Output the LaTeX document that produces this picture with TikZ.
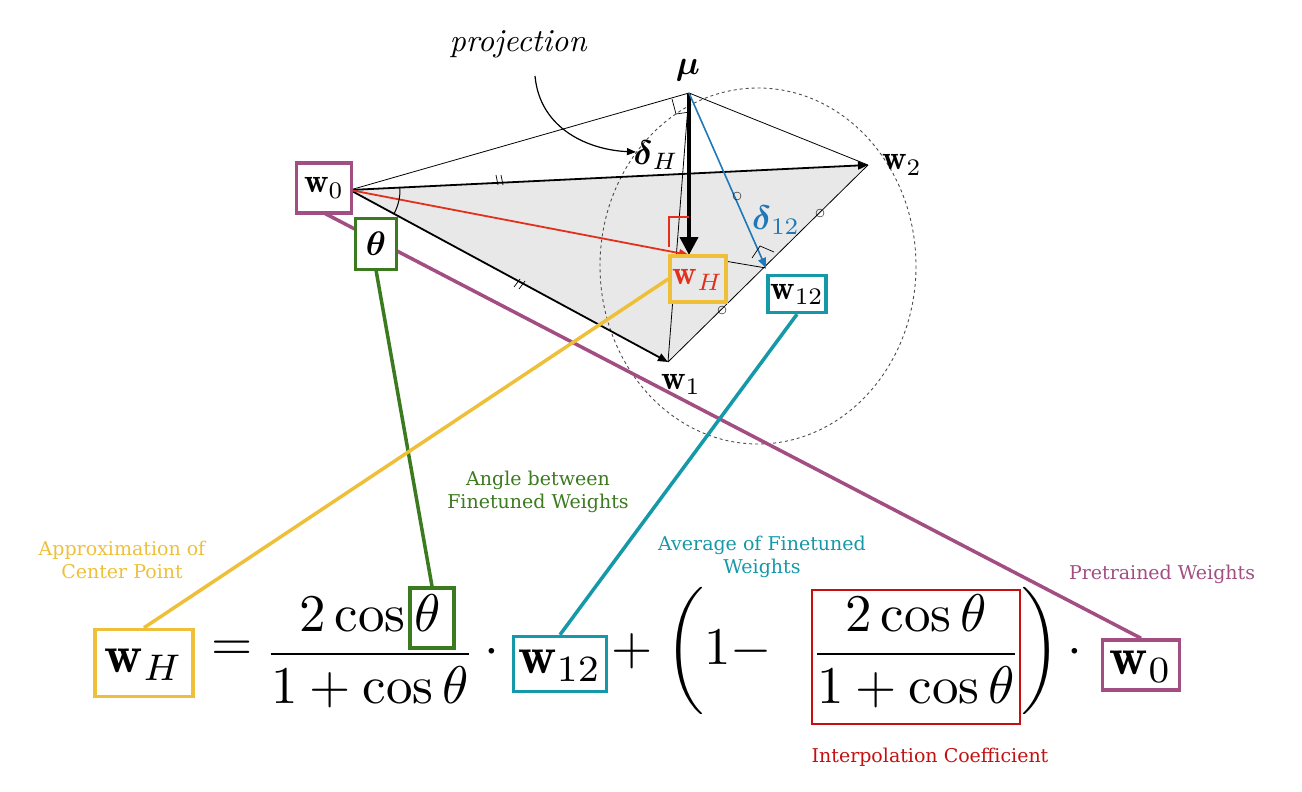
\documentclass[tikz,border=0pt]{standalone}
\usepackage{amsmath}
\usepackage{fontspec}
\newfontfamily\labf{DejaVu Serif}
\usetikzlibrary{calc,arrows.meta}
\definecolor{cY}{HTML}{EEC03A}
\definecolor{cG}{HTML}{3B7A1E}
\definecolor{cT}{HTML}{1598A8}
\definecolor{cP}{HTML}{A24E82}
\definecolor{cR}{HTML}{C41010}
\definecolor{cB}{HTML}{1F78B8}
\definecolor{cRa}{HTML}{E2301C}
\begin{document}
\begin{tikzpicture}[x=1pt,y=-1pt,
  box/.style={draw=#1,line width=3.5pt,inner sep=0pt},
  conn/.style={draw=#1,line width=3.5pt},
  lab/.style={text=#1,font=\labf\fontsize{19}{23}\selectfont,align=center},
  dtext/.style={scale=3.4,inner sep=0pt},
  ftext/.style={scale=5.3,inner sep=0pt},
  circ/.style={draw,thin,fill=none}]
\useasboundingbox (0,0) rectangle (1302,792);
% points
\coordinate (w0) at (350,190);
\coordinate (w1) at (668,362);
\coordinate (w2) at (868,165);
\coordinate (mu) at (689,93);
\coordinate (wh) at (689,255);
\coordinate (w12) at (766,268);
% shaded plane
\fill[gray!18] (w0) -- (w1) -- (w2) -- cycle;
% dashed ellipse
\draw[dashed,gray!60!black,line width=0.9pt] (758,266) ellipse[x radius=158,y radius=178];
% thin lines
\draw[line width=0.8pt] (w0) -- (mu) -- (w2);
\draw[line width=0.8pt] (w1) -- (w2);
\draw[line width=0.8pt] (w1) -- (mu);
\draw[line width=0.8pt] (wh) -- (w12);
% thick arrows
\draw[line width=1.8pt,-{Triangle[length=10pt,width=8pt]}] (w0) -- (w2);
\draw[line width=1.8pt,-{Triangle[length=10pt,width=8pt]}] (w0) -- (w1);
\draw[cRa,line width=1.8pt,-{Triangle[length=10pt,width=8pt]}] (w0) -- (wh);
\draw[line width=4pt,-{Triangle[length=18pt,width=18pt]}] (mu) -- (wh);
\draw[cB,line width=1.6pt,-{Triangle[length=10pt,width=8pt]}] (mu) -- (w12);
% right angle marks
\draw[cRa,line width=1.5pt] (689,217) -- (669,217) -- (669,247);
\draw[line width=0.7pt] (672,99) -- (676,114) -- (690,112);
\draw[line width=0.7pt] (752,258) -- (760,246) -- (774,252);
% theta arc
\draw[line width=1pt] ($(w0)+(-2.8:50)$) arc[start angle=-2.8,end angle=28.4,radius=50];
% ticks
\draw[line width=0.7pt] (496,175) -- (498,185) (501,175) -- (503,185);
\draw[line width=0.7pt] (514,287) -- (520,279) (519,289) -- (525,281);
% circles
\draw[circ] (722,310) circle[radius=4];
\draw[circ] (820,213) circle[radius=4];
\draw[circ] (737,196) circle[radius=4];
% labels in diagram
\node[scale=3.2,font=\itshape] (proj) at (518,44) {projection};
\coordinate (pa) at (535,76);
\coordinate (pb) at (636,152);
\draw[line width=1.2pt,-{Triangle[length=9pt,width=7pt]}] (pa) .. controls (540,130) and (590,150) .. (pb);
\node[dtext] (lmu) at (688,70) {$\boldsymbol{\mu}$};
\node[dtext] (ldh) at (656,155) {$\boldsymbol{\delta}_H$};
\node[dtext,text=cB] (ld12) at (776,220) {$\boldsymbol{\delta}_{12}$};
\node[dtext] (lw2) at (902,165) {$\mathbf{w}_2$};
\node[dtext] (lw1) at (681,384) {$\mathbf{w}_1$};
% boxes in diagram
\node[box=cY,fill=gray!18,minimum width=56pt,minimum height=46pt] (bwh) at (698,279) {};
\node[dtext,text=cRa] at (698,280) {$\mathbf{w}_H$};
\node[box=cT,fill=white,minimum width=58pt,minimum height=37pt] (bw12) at (797,294) {};
\node[dtext] at (797,294) {$\mathbf{w}_{12}$};
% formula
\node[box=cY,minimum width=98pt,minimum height=67pt] (fwh) at (144,663) {};
\node[ftext] at (144,665) {$\mathbf{w}_H$};
\node[ftext] (feq) at (232,651) {$=$};
\node[ftext] (ffr1) at (370,651) {$\dfrac{2\cos\theta}{1+\cos\theta}$};
\node[ftext] (fd1) at (492,653) {$\cdot$};
\node[box=cT,minimum width=93pt,minimum height=55pt] (fw12) at (560,664) {};
\node[ftext] at (560,666) {$\mathbf{w}_{12}$};
\node[ftext] (fplus) at (632,651) {$+$};
\node[ftext] (flp) at (722,651) {$\left(\vphantom{\dfrac{2\cos\theta}{1+\cos\theta}}1-\right.$};
\node[ftext] (ffr2) at (916,651) {$\dfrac{2\cos\theta}{1+\cos\theta}$};
\node[draw=cR,line width=1.5pt,minimum width=208pt,minimum height=134pt] (fred) at (916,657) {};
\node[ftext] (frp) at (1038,651) {$\left.\vphantom{\dfrac{2\cos\theta}{1+\cos\theta}}\right)$};
\node[ftext] (fd2) at (1075,653) {$\cdot$};
\node[box=cP,minimum width=77pt,minimum height=50pt] (fw0) at (1141,665) {};
\node[ftext] at (1141,667) {$\mathbf{w}_0$};
\node[draw=cG,line width=3.5pt,minimum width=44pt,minimum height=60pt] (fth) at (432,618) {};
% connectors
\draw[conn=cP] (324,213) -- (fw0.north);
\draw[conn=cG] (376,270) -- (fth.north);
\draw[conn=cY] (bwh.west) -- (fwh.north);
\draw[conn=cT] (bw12.south) -- (fw12.north);
% boxes on top of connectors
\node[box=cP,fill=white,minimum width=55pt,minimum height=50pt] (bw0) at (324,188) {};
\node[dtext] at (324,188) {$\mathbf{w}_0$};
\node[box=cG,fill=white,minimum width=41pt,minimum height=51pt] (bth) at (376,244) {};
\node[dtext] at (376,244) {$\boldsymbol{\theta}$};
% labels
\node[lab=cY] (l1) at (122,560) {Approximation of\\Center Point};
\node[lab=cG] (l2) at (538,492) {Angle between\\Finetuned Weights};
\node[lab=cT] (l3) at (762,557) {Average of Finetuned\\Weights};
\node[lab=cP] (l4) at (1162,574) {Pretrained Weights};
\node[lab=cR] (l5) at (930,757) {Interpolation Coefficient};
\end{tikzpicture}
\end{document}
